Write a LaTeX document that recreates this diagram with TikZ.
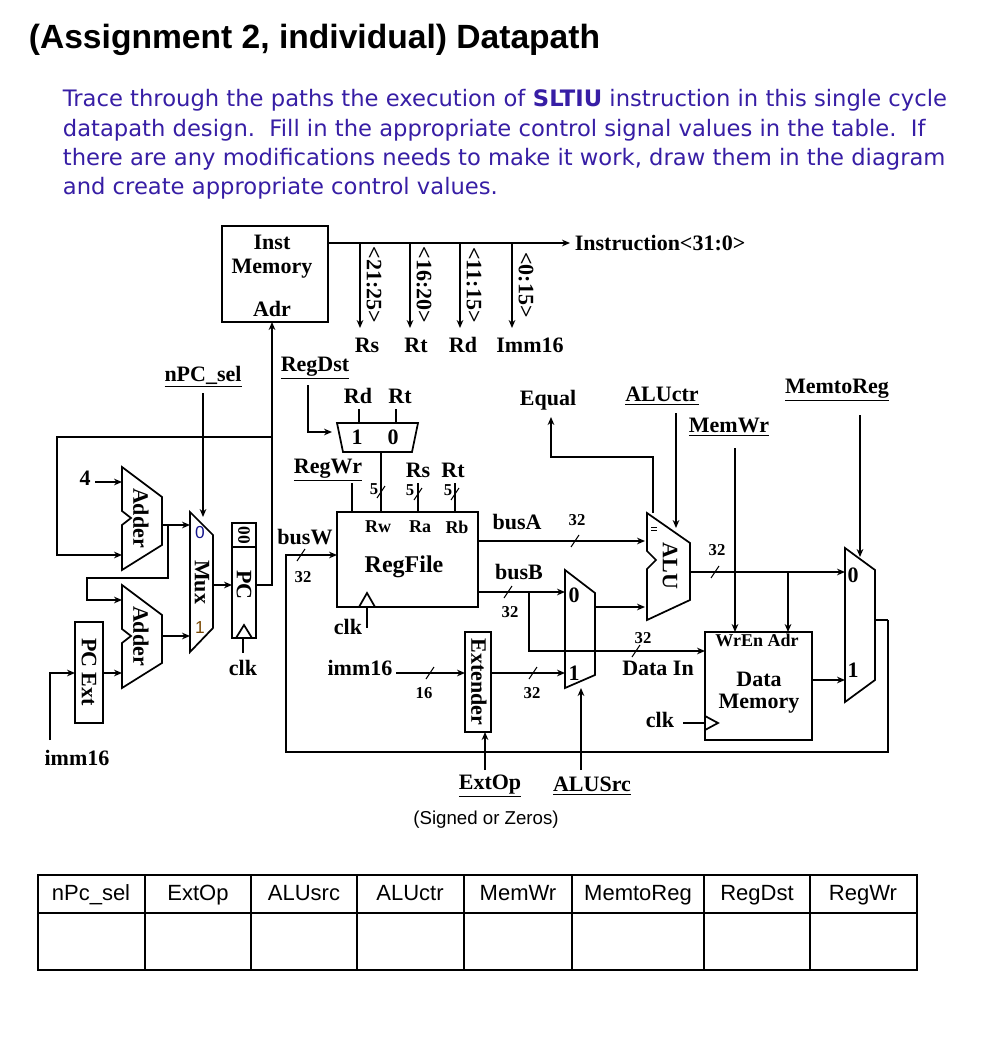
\documentclass[tikz,border=0pt]{standalone}
\usepackage{fontspec}
\setmainfont{Liberation Serif}
\newfontfamily\sansA{Liberation Sans}
\newfontfamily\sansV{DejaVu Sans}
\usetikzlibrary{arrows.meta}
\definecolor{txtblue}{RGB}{55,30,165}
\newcommand\myul[1]{\underline{#1}}
\begin{document}
\begin{tikzpicture}[x=0.75pt,y=-0.75pt,line width=1.3pt,>={Stealth[length=6pt,width=5pt]},
  lb/.style={font=\bfseries\fontsize{16.5}{16.5}\selectfont,inner sep=0pt},
  sm/.style={font=\bfseries\fontsize{12.5}{12.5}\selectfont,inner sep=0pt},
  ul/.style={lb},
  rot/.style={lb,rotate=-90},
  sl/.pic={\draw[line width=0.8pt] (-4,6)--(4,-6);},
  cell/.style={font=\sansA\fontsize{16.5}{16.5}\selectfont,inner sep=0pt,anchor=base}]
\useasboundingbox (0,0) rectangle (992,1038);
% title and text
\node[anchor=west,inner sep=0pt,font=\sansA\bfseries\fontsize{25.2}{25}\selectfont] (title) at (28,40) {(Assignment 2, individual) Datapath};
\begin{scope}[every node/.style={anchor=west,inner sep=0pt,text=txtblue,font=\sansV\fontsize{17}{17}\selectfont}]
\node (p1) at (62,100) {Trace through the paths the execution of \textbf{SLTIU} instruction in this single cycle};
\node (p2) at (62,130) {datapath design.\ \ Fill in the appropriate control signal values in the table.\ \ If};
\node (p3) at (62,159) {there are any modifications needs to make it work, draw them in the diagram};
\node (p4) at (62,188) {and create appropriate control values.};
\end{scope}
% Inst memory
\draw (222,226) rectangle (328,322);
\node[lb] (im1) at (272,242) {Inst};
\node[lb] (im2) at (272,269) {Memory};
\node[lb] (im3) at (272,309) {Adr};
\draw[->] (328,243) -- (570,243);
\node[lb,anchor=west] (instr) at (574,243) {Instruction<31:0>};
\foreach \x/\t/\l/\lx in {360/<21:25>/Rs/367,410/<16:20>/Rt/416,460/<11:15>/Rd/463,512/<0:15>/Imm16/530}{
  \draw[->] (\x,243) -- (\x,328);
  \node[rot] at (\x+14,285) {\t};
  \node[lb] at (\lx,345) {\l};
}
% PC feedback / adr
\draw[->] (256,585) -- (272,585) -- (272,322);
\draw[->] (272,437) -- (57,437) -- (57,555) -- (122,555);
% Adders
\draw (122,467) -- (162,497) -- (162,545) -- (122,570) -- (122,525) -- (131,518) -- (122,511) -- cycle;
\node[rot] (add1) at (141,518) {Adder};
\node[lb] (four) at (85,478) {4};
\draw[->] (95,482) -- (122,482);
\draw (122,585) -- (162,615) -- (162,663) -- (122,688) -- (122,643) -- (131,636) -- (122,629) -- cycle;
\node[rot] (add2) at (141,636) {Adder};
\draw[->] (162,525) -- (190,525);
\draw[->] (168,525) -- (168,578) -- (87,578) -- (87,600) -- (122,600);
\draw[->] (162,636) -- (190,636);
\draw (75,622) rectangle (103,723);
\node[rot] (pcext) at (89,672) {PC Ext};
\draw[->] (103,673) -- (122,673);
\draw[->] (50,740) -- (50,673) -- (75,673);
\node[lb] (imm16a) at (77,758) {imm16};
% Mux
\draw (190,512) -- (213,535) -- (213,628) -- (190,652) -- cycle;
\node[rot] (mux) at (202,582) {Mux};
\node[font=\sansA\fontsize{13}{13}\selectfont,inner sep=0pt,text={rgb,255:red,20;green,20;blue,140}] at (200,533) {0};
\node[font=\sansA\fontsize{13}{13}\selectfont,inner sep=0pt,text={rgb,255:red,120;green,70;blue,0}] at (200,628) {1};
\node[ul] (npc) at (203,377) {\myul{nPC\_sel}};
\draw[->] (203,393) -- (203,517);
\draw[->] (213,585) -- (232,585);
% PC
\draw (232,523) rectangle (256,638);
\draw (232,547) -- (256,547);
\node[rot,font=\bfseries\fontsize{13}{13}\selectfont] at (244,535) {00};
\node[rot] (pc) at (244,585) {PC};
\draw (236,638) -- (244,625) -- (252,638);
\draw (243,638) -- (243,653);
\node[lb] (clk1) at (243,668) {clk};
% RegDst mux
\node[ul] (regdst) at (315,368) {\myul{RegDst}};
\draw[->] (308,385) -- (308,432) -- (332,432);
\draw (337,423) -- (418,423) -- (412,452) -- (343,452) -- cycle;
\node[lb] at (357,437) {1};
\node[lb] at (393,437) {0};
\draw (359,409) -- (359,423);
\draw (396,409) -- (396,423);
\node[lb] (rd2) at (358,396) {Rd};
\node[lb] (rt2) at (400,396) {Rt};
\draw (381,452) -- (381,512);
\pic at (381,492) {sl}; \node[sm] at (374,489) {5};
\node[ul] (regwr) at (328,470) {\myul{RegWr}};
\draw (352,483) -- (352,512);
\node[lb] (rs3) at (418,470) {Rs};
\node[lb] (rt3) at (453,470) {Rt};
\draw (418,483) -- (418,512); \pic at (418,494) {sl}; \node[sm] at (410,490) {5};
\draw (455,483) -- (455,512); \pic at (455,494) {sl}; \node[sm] at (448,490) {5};
% RegFile
\draw[line width=2.2pt] (337,512) rectangle (478,607);
\node[sm,font=\bfseries\fontsize{13.5}{13.5}\selectfont] at (378,527) {Rw};
\node[sm,font=\bfseries\fontsize{13.5}{13.5}\selectfont] at (420,527) {Ra};
\node[sm,font=\bfseries\fontsize{13.5}{13.5}\selectfont] at (457,527) {Rb};
\node[lb,font=\bfseries\fontsize{18}{18}\selectfont] (rf) at (404,567) {RegFile};
\draw (359,607) -- (367,593) -- (375,607);
\draw (367,607) -- (367,628);
\node[lb] (clk2) at (348,627) {clk};
% busW
\node[lb] (busw) at (305,537) {busW};
\draw[->] (888,620) -- (888,752) -- (286,752) -- (286,555) -- (337,555);
\pic at (301,555) {sl}; \node[sm] at (303,577) {32};
% busA
\draw[->] (478,541) -- (645,541);
\node[lb] (busa) at (517,522) {busA};
\pic at (575,541) {sl}; \node[sm] at (577,520) {32};
% busB
\draw[->] (478,592) -- (565,592);
\node[lb] (busb) at (519,572) {busB};
\pic at (508,592) {sl}; \node[sm] at (510,612) {32};
\draw[->] (529,592) -- (529,651) -- (705,651);
\pic at (636,651) {sl}; \node[sm] at (643,638) {32};
\node[lb] (datain) at (658,668) {Data In};
% ALUSrc mux
\draw (565,570) -- (595,593) -- (595,675) -- (565,688) -- cycle;
\node[lb] at (574,595) {0};
\node[lb] at (574,673) {1};
\draw[->] (595,607) -- (645,607);
% Extender
\draw (465,632) rectangle (491,732);
\node[rot] (ext) at (479,682) {Extender};
\node[lb] (imm16b) at (360,668) {imm16};
\draw[->] (396,673) -- (465,673);
\pic at (430,673) {sl}; \node[sm] at (424,693) {16};
\draw[->] (491,673) -- (565,673);
\pic at (533,673) {sl}; \node[sm] at (532,693) {32};
\draw[->] (485,770) -- (485,732);
\draw[->] (581,770) -- (581,688);
\node[ul] (extop) at (490,786) {\myul{ExtOp}};
\node[ul] (alusrc) at (592,786) {\myul{ALUSrc}};
\node[font=\sansA\fontsize{14}{14}\selectfont,inner sep=0pt] (sz) at (486,820) {(Signed or Zeros)};
% ALU
\draw (647,513) -- (690,543) -- (690,600) -- (647,620) -- (647,569) -- (656,560) -- (647,551) -- cycle;
\node[rot] (alu) at (670,566) {ALU};
\draw[line width=0.6pt] (651,527) -- (657,527) (651,530) -- (657,530);
\draw[->] (653,513) -- (653,457) -- (551,457) -- (551,417);
\node[lb] (equal) at (548,400) {Equal};
\node[ul] (aluctr) at (662,396) {\myul{ALUctr}};
\draw[->] (676,413) -- (676,528);
\draw[->] (690,572) -- (845,572);
\pic at (715,572) {sl}; \node[sm] at (717,550) {32};
\draw[->] (788,572) -- (788,632);
\node[ul] (memwr) at (729,427) {\myul{MemWr}};
\draw[->] (735,448) -- (735,632);
\node[ul] (mtr) at (837,390) {\myul{MemtoReg}};
\draw[->] (860,415) -- (860,557);
% Data memory
\draw (705,632) rectangle (812,740);
\node[sm,font=\bfseries\fontsize{13.5}{13.5}\selectfont] at (757,640) {WrEn Adr};
\node[lb,font=\bfseries\fontsize{16.5}{16.5}\selectfont] at (759,679) {Data};
\node[lb,font=\bfseries\fontsize{16.5}{16.5}\selectfont] (dm) at (759,704) {Memory};
\node[lb] (clk3) at (660,720) {clk};
\draw (683,723) -- (705,723);
\draw (705,716) -- (718,723) -- (705,730);
\draw[->] (812,680) -- (845,680);
% output mux
\draw (845,548) -- (875,570) -- (875,680) -- (845,702) -- cycle;
\node[lb] at (853,575) {0};
\node[lb] at (853,670) {1};
\draw (875,620) -- (888,620);
% table
\draw[line width=1pt] (38,875) rectangle (917,970);
\draw[line width=1pt] (38,913) -- (917,913);
\foreach \x in {145,251,357,464,572,704,810} \draw[line width=1pt] (\x,875) -- (\x,970);
\foreach \cx/\t in {91/nPc\_sel,198/ExtOp,304/ALUsrc,410/ALUctr,518/MemWr,638/MemtoReg,757/RegDst,863/RegWr}
  \node[cell] at (\cx,900) {\t};
\end{tikzpicture}
\end{document}
